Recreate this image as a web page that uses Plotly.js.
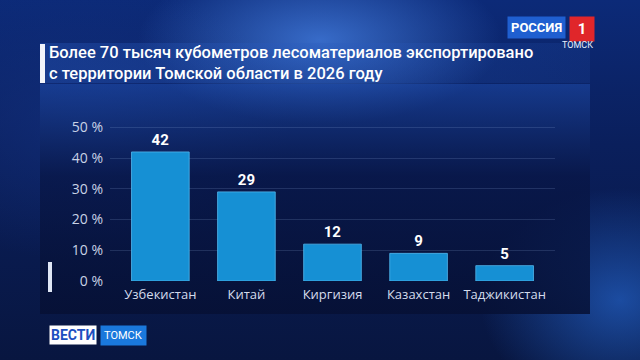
<!DOCTYPE html>
<html><head><meta charset="utf-8">
<script src="https://cdn.plot.ly/plotly-3.0.1.min.js"></script>
<style>
html,body{margin:0;padding:0;width:640px;height:360px;overflow:hidden;}
body{background:
 radial-gradient(ellipse 260px 120px at 320px 40px, rgba(70,130,230,0.75), rgba(40,90,200,0) 70%),
 radial-gradient(ellipse 200px 160px at 620px 300px, rgba(40,110,220,0.6), rgba(30,80,200,0) 70%),
 radial-gradient(ellipse 300px 200px at 80px 120px, rgba(20,50,130,0.6), rgba(20,50,130,0) 70%),
 linear-gradient(180deg,#0c2a78 0%,#0a1f5c 40%,#081640 100%);}
#panel{position:absolute;left:40px;top:84px;width:550px;height:230px;
 background:linear-gradient(180deg,rgba(30,75,170,0.55) 0%,rgba(8,22,70,0.75) 40%,rgba(6,16,52,0.85) 100%);}
#band{position:absolute;left:40px;top:43px;width:550px;height:40px;
 background:linear-gradient(90deg,rgba(40,90,190,0.35),rgba(40,90,190,0.15));}
#bar1{position:absolute;left:40px;top:44px;width:5px;height:39px;background:#f2f4fa;}
#bar2{position:absolute;left:48px;top:262px;width:4px;height:30px;background:#dfe6f5;}
#chart{position:absolute;left:0;top:0;width:640px;height:360px;}
</style></head>
<body>
<div id="band"></div><div id="panel"></div><div id="bar1"></div><div id="bar2"></div>
<div id="chart"></div>
<script>
const countries = ["Узбекистан","Китай","Киргизия","Казахстан","Таджикистан"];
const shares = [42, 29, 12, 9, 5];
const yTickVals = [0,10,20,30,40,50];
const yTickText = ["0 %","10 %","20 %","30 %","40 %","50 %"];
const titleText = "Более 70 тысяч кубометров лесоматериалов экспортировано<br>с территории Томской области в 2026 году";

const W=640,H=360,L=110,R=85,T=112,B=79;
const pw=W-L-R, ph=H-T-B;
const fx = x => (x-L)/pw;
const fy = y => (H-B-y)/ph;

const trace = {
  type:'bar', x:countries, y:shares,
  text: shares.map(String), textposition:'outside', cliponaxis:false,
  textfont:{family:'Roboto, sans-serif', size:15, color:'#ffffff', weight:700},
  marker:{color:'#1690d4', line:{color:'#52b8ee', width:0.8}},
  hoverinfo:'none'
};

const layout = {
  width:W, height:H,
  margin:{l:L,r:R,t:T,b:B},
  paper_bgcolor:'rgba(0,0,0,0)', plot_bgcolor:'rgba(0,0,0,0)',
  showlegend:false, bargap:0.33,
  title:{text:titleText, xref:'container', yref:'container', x:49/W, xanchor:'left',
    y:1-58/H, yanchor:'top',
    font:{family:'Roboto, sans-serif', size:16.5, color:'#ffffff', weight:500}},
  xaxis:{range:[-0.585,4.585], showgrid:false, zeroline:false, showline:false, ticks:'',
    tickfont:{family:'Open Sans, sans-serif', size:13, color:'#d4dcec'}, ticklabelstandoff:4},
  yaxis:{range:[0,55], tickvals:yTickVals, ticktext:yTickText, showgrid:true,
    gridcolor:'rgba(150,180,230,0.18)', gridwidth:1, zeroline:false, showline:false,
    tickfont:{family:'Open Sans, sans-serif', size:14, color:'#c8d2e6'}, ticklabelstandoff:6},
  annotations:[
    {text:'<b>РОССИЯ</b>', xref:'paper', yref:'paper', x:fx(566), xanchor:'right', y:fy(28), yanchor:'middle',
     showarrow:false, bgcolor:'#1f5fd0', borderpad:3, font:{family:'Roboto, sans-serif', size:13, color:'#ffffff'}},
    {text:'<b>1</b>', xref:'paper', yref:'paper', x:fx(595), xanchor:'right', y:fy(29), yanchor:'middle',
     showarrow:false, bgcolor:'#e0262a', borderpad:3, width:18, font:{family:'Roboto, sans-serif', size:15, color:'#ffffff'}},
    {text:'ТОМСК', xref:'paper', yref:'paper', x:fx(595), xanchor:'right', y:fy(45), yanchor:'middle',
     showarrow:false, font:{family:'Roboto, sans-serif', size:9, color:'#e8eefa'}},
    {text:'<b>ВЕСТИ</b>', xref:'paper', yref:'paper', x:fx(49), xanchor:'left', y:fy(335), yanchor:'middle',
     showarrow:false, bgcolor:'#ffffff', borderpad:1, font:{family:'Roboto, sans-serif', size:14, color:'#1d4fc0'}},
    {text:'ТОМСК', xref:'paper', yref:'paper', x:fx(100), xanchor:'left', y:fy(335), yanchor:'middle',
     showarrow:false, bgcolor:'#1a78dc', borderpad:3, font:{family:'Roboto, sans-serif', size:11, color:'#ffffff'}}
  ]
};
Plotly.newPlot('chart',[trace],layout,{staticPlot:true});
</script>
</body></html>
